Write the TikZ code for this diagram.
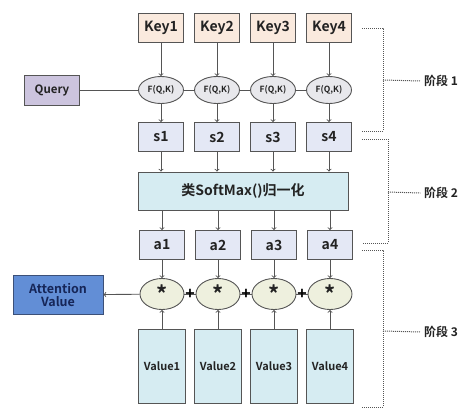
\documentclass[tikz,border=0pt]{standalone}
\usepackage{fontspec}
\setmainfont{Noto Sans CJK SC}[BoldFont={Noto Sans CJK SC Bold}]
\usetikzlibrary{shapes.geometric}
\definecolor{linegray}{RGB}{85,85,85}
\definecolor{txtgray}{RGB}{35,35,35}
\definecolor{keyfill}{RGB}{250,234,222}
\definecolor{sfill}{RGB}{228,232,245}
\definecolor{softfill}{RGB}{214,236,242}
\definecolor{fqkfill}{RGB}{232,232,236}
\definecolor{starfill}{RGB}{238,240,222}
\definecolor{queryfill}{RGB}{204,196,222}
\definecolor{attfill}{RGB}{98,142,214}
\definecolor{attline}{RGB}{60,80,120}
\definecolor{atttext}{RGB}{22,38,88}

\begin{document}
\begin{tikzpicture}[x=1pt, y=-1pt, node distance=56pt, font=\bfseries, color=linegray, text=txtgray, line width=0.9pt,
	box/.style={draw=linegray, minimum width=45pt, minimum height=29pt, inner sep=0pt, font=\bfseries\fontsize{14}{14}\selectfont},
	fqk/.style={ellipse, draw=linegray, fill=fqkfill, minimum width=45pt, minimum height=27pt, inner sep=0pt, font=\bfseries\fontsize{8.5}{9}\selectfont},
	star/.style={ellipse, draw=linegray, fill=starfill, minimum width=44pt, minimum height=31pt, inner sep=0pt, font=\bfseries\fontsize{22}{22}\selectfont},
	valbox/.style={box, fill=softfill, minimum width=47pt, minimum height=74pt, font=\bfseries\fontsize{11}{12}\selectfont},
	plus/.style={inner sep=0pt, text=black, font=\bfseries\fontsize{16}{16}\selectfont},
	stage/.style={line width=1pt, densely dotted}]
	\useasboundingbox (0,0) rectangle (474,410);
	% keys
	\node (key1) [box, fill=keyfill] at (161,28) {Key1};
	\node (key2) [box, fill=keyfill, right of=key1] {Key2};
	\node (key3) [box, fill=keyfill, right of=key2] {Key3};
	\node (key4) [box, fill=keyfill, right of=key3] {Key4};
	% scores
	\node (query) [box, fill=queryfill, minimum width=55pt, minimum height=30pt, font=\bfseries\fontsize{11.5}{12}\selectfont] at (52,90) {Query};
	\node (f1) [fqk] at (161,90) {F(Q,K)};
	\node (f2) [fqk, right of=f1] {F(Q,K)};
	\node (f3) [fqk, right of=f2] {F(Q,K)};
	\node (f4) [fqk, right of=f3] {F(Q,K)};
	\node (s1) [box, fill=sfill] at (161,137) {s1};
	\node (s2) [box, fill=sfill, right of=s1] {s2};
	\node (s3) [box, fill=sfill, right of=s2] {s3};
	\node (s4) [box, fill=sfill, right of=s3] {s4};
	% normalisation
	\node (soft) [box, fill=softfill, minimum width=210pt, minimum height=38pt, font=\bfseries\fontsize{14}{14}\selectfont] at (243,191) {类SoftMax()归一化};
	\node (a1) [box, fill=sfill] at (162,245) {a1};
	\node (a2) [box, fill=sfill, right of=a1] {a2};
	\node (a3) [box, fill=sfill, right of=a2] {a3};
	\node (a4) [box, fill=sfill, right of=a3] {a4};
	% weighted sum
	\node (m1) [star] at (162,294) {\raisebox{-6pt}{*}};
	\node (m2) [star, right of=m1] {\raisebox{-6pt}{*}};
	\node (m3) [star, right of=m2] {\raisebox{-6pt}{*}};
	\node (m4) [star, right of=m3] {\raisebox{-6pt}{*}};
	\node (v1) [valbox] at (162,366) {Value1};
	\node (v2) [valbox, right of=v1] {Value2};
	\node (v3) [valbox, right of=v2] {Value3};
	\node (v4) [valbox, right of=v3] {Value4};
	\node (att) [box, draw=attline, fill=attfill, text=atttext, minimum width=90pt, minimum height=39pt, align=center, font=\bfseries\fontsize{12.5}{13}\selectfont] at (58,295) {Attention\\Value};

	\draw[->] (key1) to (f1);
	\draw[->] (key2) to (f2);
	\draw[->] (key3) to (f3);
	\draw[->] (key4) to (f4);
	\draw (query) to (f1);
	\draw (f1) to (f2);
	\draw (f2) to (f3);
	\draw (f3) to (f4);
	\draw[->] (f1) to (s1);
	\draw[->] (f2) to (s2);
	\draw[->] (f3) to (s3);
	\draw[->] (f4) to (s4);
	\draw[->] (s1) to (s1 |- soft.north);
	\draw[->] (s2) to (s2 |- soft.north);
	\draw[->] (s3) to (s3 |- soft.north);
	\draw[->] (s4) to (s4 |- soft.north);
	\draw[->] (a1 |- soft.south) to (a1);
	\draw[->] (a2 |- soft.south) to (a2);
	\draw[->] (a3 |- soft.south) to (a3);
	\draw[->] (a4 |- soft.south) to (a4);
	\draw[->] (a1) to (m1);
	\draw[->] (a2) to (m2);
	\draw[->] (a3) to (m3);
	\draw[->] (a4) to (m4);
	\draw[->] (v1) to (m1);
	\draw[->] (v2) to (m2);
	\draw[->] (v3) to (m3);
	\draw[->] (v4) to (m4);
	\draw (m1) to node [plus] {+} (m2);
	\draw (m2) to node [plus] {+} (m3);
	\draw (m3) to node [plus] {+} (m4);
	\draw[->] (m1) to (att);

	% stages
	\node (st1) [font=\bfseries\fontsize{12}{12}\selectfont] at (441,81) {阶段 1};
	\node (st2) [font=\bfseries\fontsize{12}{12}\selectfont] at (441,193) {阶段 2};
	\node (st3) [font=\bfseries\fontsize{12}{12}\selectfont] at (441,332) {阶段 3};
	\draw[stage] (362,28) -- (383,28) -- (383,131) -- (362,131);
	\draw[stage] (383,80) -- (st1.west);
	\draw[stage] (362,139) -- (388,139) -- (388,243) -- (362,243);
	\draw[stage] (388,192) -- (st2.west);
	\draw[stage] (362,250) -- (383,250) -- (383,407) -- (362,407);
	\draw[stage] (383,331) -- (st3.west);
\end{tikzpicture}
\end{document}
